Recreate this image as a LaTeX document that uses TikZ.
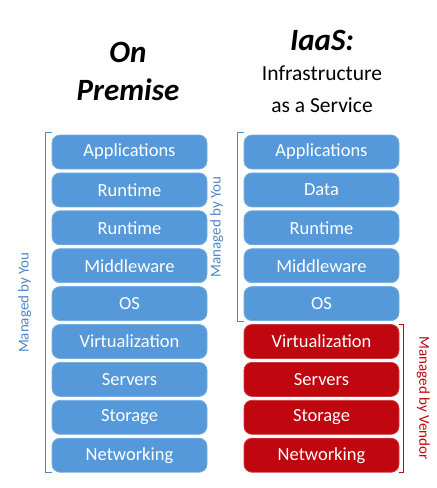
\documentclass[tikz,border=0pt]{standalone}
\usepackage{fontspec}
\setmainfont{Carlito}
\usetikzlibrary{positioning,calc}
\definecolor{BoxClr}{RGB}{86,153,218}
\definecolor{VendorClr}{RGB}{192,6,14}
\definecolor{YouClr}{RGB}{79,136,200}

\begin{document}
\begin{tikzpicture}[x=1pt,y=-1pt,node distance=3.1pt,
  layer/.style={rectangle,rounded corners=8pt,minimum width=155pt,minimum height=34pt,
    fill=BoxClr,draw=BoxClr!80!white,line width=0.8pt,text=white,font=\fontsize{18.5}{20}\selectfont},
  vendor/.style={layer,fill=VendorClr,draw=VendorClr!80!white},
  title/.style={font=\fontsize{31}{34}\selectfont\bfseries\itshape},
  subtitle/.style={font=\fontsize{21.5}{24}\selectfont},
  brace/.style={line width=0.8pt},
  side/.style={font=\fontsize{15}{16}\selectfont}]
\useasboundingbox (0,0) rectangle (437,488);

\node[title] (on) at (128,52) {On};
\node[title] (prem) at (128,90) {Premise};
\node[title] (iaas) at (322,40) {IaaS:};
\node[subtitle] (infra) at (322,73) {Infrastructure};
\node[subtitle] (serv) at (322,105) {as a Service};

\node[layer] (l1) at (129.5,152) {Applications};
\node[layer,below=of l1] (l2) {Runtime};
\node[layer,below=of l2] (l3) {Runtime};
\node[layer,below=of l3] (l4) {Middleware};
\node[layer,below=of l4] (l5) {OS};
\node[layer,below=of l5] (l6) {Virtualization};
\node[layer,below=of l6] (l7) {Servers};
\node[layer,below=of l7] (l8) {Storage};
\node[layer,below=of l8] (l9) {Networking};

\node[layer] (r1) at (321.5,152) {Applications};
\node[layer,below=of r1] (r2) {Data};
\node[layer,below=of r2] (r3) {Runtime};
\node[layer,below=of r3] (r4) {Middleware};
\node[layer,below=of r4] (r5) {OS};
\node[vendor,below=of r5] (r6) {Virtualization};
\node[vendor,below=of r6] (r7) {Servers};
\node[vendor,below=of r7] (r8) {Storage};
\node[vendor,below=of r8] (r9) {Networking};

\draw[brace,YouClr] ([yshift=2pt]l1.north west) -- ++(-6,0) coordinate (la) |- (l9.south west);
\draw[brace,YouClr] ([yshift=2pt]r1.north west) -- ++(-6,0) coordinate (ra) |- (r5.south west);
\draw[brace,VendorClr] (r6.north east) -- ++(4,0) coordinate (va) |- (r9.south east);

\path (la) -- (la |- l9.south) node[midway,xshift=-21pt,rotate=90,side,text=YouClr] (you1) {Managed by You};
\path (ra) -- (ra |- r5.south) node[midway,xshift=-21pt,rotate=90,side,text=YouClr] (you2) {Managed by You};
\path (va) -- (va |- r9.south) node[midway,xshift=20pt,rotate=-90,side,text=VendorClr] (vend) {Managed by Vendor};

\end{tikzpicture}
\end{document}
